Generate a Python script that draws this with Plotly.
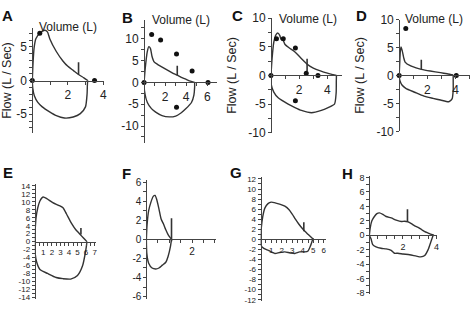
import plotly.graph_objects as go

W, H = 474, 311
LINE = "#333333"
AXC = "#444444"
FONT = "Liberation Sans, Arial, sans-serif"

panel_letters = ["A", "B", "C", "D", "E", "F", "G", "H"]
flow_title = "Flow (L / Sec)"
volume_title = "Volume (L)"

a_exp_x = [0, 0.04, 0.1, 0.2, 0.42, 0.7, 0.85, 0.98, 1.35, 1.72, 2.0, 2.3, 2.6, 2.9, 3.12]
a_exp_y = [0, 2.5, 4.8, 6.2, 7.0, 7.45, 7.2, 6.2, 4.3, 2.9, 2.1, 1.5, 0.9, 0.4, 0]
a_ins_x = [0, 0.03, 0.12, 0.3, 0.56, 0.95, 1.35, 1.8, 2.3, 2.7, 2.99, 3.08, 3.1, 3.12]
a_ins_y = [0, -1.2, -2.3, -3.2, -3.9, -4.6, -5.2, -5.55, -5.4, -4.9, -3.9, -2.0, -0.5, 0]
a_dot_x = [0, 0.42, 3.5]
a_dot_y = [0, 7.0, 0]
a_tick = [2.6, 0.9, 2.7]

b_exp_x = [0, 0.1, 0.3, 0.45, 0.6, 0.75, 0.95, 1.3, 1.8, 2.3, 2.8, 3.2, 3.6, 4.0, 4.4, 4.8]
b_exp_y = [0, 3.0, 7.0, 8.2, 7.8, 6.0, 4.7, 4.1, 3.4, 2.7, 2.0, 1.6, 1.1, 0.7, 0.3, 0]
b_ins_x = [0, 0.04, 0.31, 0.7, 1.1, 1.7, 2.4, 3.0, 3.5, 3.93, 4.5, 4.73, 4.8, 4.8]
b_ins_y = [0, -1.9, -4.6, -6.0, -6.8, -7.6, -7.9, -7.7, -7.0, -6.1, -4.6, -2.9, -1.0, 0]
b_dot_x = [0, 0.72, 1.57, 3.08, 4.56, 6.07, 3.08]
b_dot_y = [0, 11.0, 9.7, 6.5, 2.6, 0, -5.7]
b_tick = [3.15, 1.6, 3.8]

c_exp_x = [0, 0.08, 0.2, 0.35, 0.5, 0.62, 0.72, 0.85, 1.0, 1.3, 1.7, 2.1, 2.6, 3.0, 3.5, 4.0, 4.4, 4.64]
c_exp_y = [0, 3.0, 5.8, 7.1, 7.4, 7.0, 6.3, 6.2, 5.4, 4.8, 4.1, 3.1, 1.9, 1.3, 0.8, 0.4, 0.15, 0]
c_ins_x = [0, 0.02, 0.2, 0.51, 1.22, 1.7, 2.16, 2.87, 3.57, 4.05, 4.5, 4.62, 4.63, 4.64]
c_ins_y = [0, -1.6, -2.9, -3.9, -5.0, -5.6, -6.1, -6.5, -6.1, -5.6, -5.0, -3.0, -1.0, 0]
c_dot_x = [0, 0.39, 0.87, 1.73, 2.5, 3.33, 1.73]
c_dot_y = [0, 6.4, 6.4, 4.8, 0.4, 0, -4.4]
c_tick = [2.56, 0.8, 2.9]

d_exp_x = [0, 0.04, 0.08, 0.13, 0.22, 0.32, 0.42, 0.82, 1.2, 1.57, 2.2, 2.93, 3.4, 3.64, 3.83]
d_exp_y = [0, 2.2, 4.2, 5.1, 4.4, 3.2, 2.4, 1.7, 1.35, 1.1, 0.8, 0.5, 0.3, 0.2, 0.1]
d_ins_x = [0, 0.05, 0.2, 0.47, 1.1, 1.76, 2.4, 2.93, 3.52, 3.75, 3.83, 3.83, 3.83]
d_ins_y = [0, -0.9, -1.7, -2.3, -3.0, -3.7, -4.1, -4.4, -4.7, -4.2, -2.6, -1.0, 0.1]
d_dot_x = [0, 0.47, 4.05]
d_dot_y = [0, 8.4, 0]
d_tick = [1.57, 1.1, 2.8]

e_exp_x = [0, 0.05, 0.15, 0.35, 0.6, 0.97, 1.4, 2.1, 2.8, 3.3, 3.7, 4.3, 4.8, 5.23, 5.7, 6.1]
e_exp_y = [0, 3.0, 6.0, 8.5, 10.2, 11.2, 10.8, 9.8, 9.1, 8.5, 7.0, 4.6, 3.0, 2.0, 0.9, 0]
e_ins_x = [0, 0.05, 0.2, 0.6, 1.5, 2.5, 3.3, 4.2, 5.0, 5.6, 5.9, 6.05, 6.1]
e_ins_y = [0, -3.0, -5.0, -7.0, -8.0, -9.0, -9.3, -9.4, -8.5, -6.0, -3.0, -1.0, 0]
e_tick = [5.4, 1.8, 3.4]

f_exp_x = [0, 0.03, 0.1, 0.2, 0.3, 0.38, 0.45, 0.55, 0.65, 0.75, 0.85, 0.95, 1.05, 1.1]
f_exp_y = [0, 1.5, 3.0, 3.9, 4.5, 4.6, 4.2, 3.2, 2.1, 1.6, 1.0, 0.5, 0.15, 0]
f_ins_x = [0, 0.02, 0.1, 0.25, 0.41, 0.55, 0.7, 0.85, 0.95, 1.05, 1.1]
f_ins_y = [0, -1.5, -2.5, -3.0, -3.1, -3.0, -2.7, -2.4, -1.8, -0.8, 0]
f_tick = [1.1, -0.2, 2.2]

g_exp_x = [0, 0.05, 0.2, 0.4, 0.7, 1.0, 1.3, 1.8, 2.3, 2.7, 3.0, 3.3, 3.6, 3.9, 4.2, 4.5, 4.8, 5.0]
g_exp_y = [0, 2.0, 4.5, 6.2, 7.1, 7.4, 7.3, 7.0, 6.6, 5.9, 5.0, 4.0, 3.1, 2.3, 1.6, 1.0, 0.4, 0]
g_ins_x = [0, 0.02, 0.3, 0.73, 1.35, 1.8, 2.3, 2.8, 3.25, 3.7, 4.2, 4.5, 4.75, 4.9, 5.0]
g_ins_y = [0, -1.1, -1.8, -2.2, -2.8, -2.6, -2.5, -2.7, -2.8, -2.5, -2.5, -2.3, -1.2, -0.3, 0.2]
g_tick = [4.1, 1.6, 3.4]

h_exp_x = [0, 0.05, 0.15, 0.3, 0.45, 0.6, 0.8, 1.0, 1.3, 1.6, 1.9, 2.1, 2.3, 2.5, 2.7, 2.9, 3.1, 3.3, 3.5, 3.7, 3.85]
h_exp_y = [0, 1.0, 2.0, 2.6, 3.0, 3.1, 2.9, 2.6, 2.4, 2.1, 1.9, 1.95, 1.85, 1.6, 1.3, 1.1, 0.8, 0.5, 0.3, 0.1, 0]
h_ins_x = [0, 0.1, 0.2, 0.4, 0.7, 1.0, 1.3, 1.5, 1.7, 2.0, 2.4, 2.8, 3.06, 3.3, 3.5, 3.65, 3.8]
h_ins_y = [0, -0.5, -1.3, -1.6, -1.8, -1.9, -2.1, -2.5, -2.5, -2.6, -2.7, -2.9, -3.0, -2.8, -2.0, -1.0, 0]
h_tick = [2.27, 1.85, 3.6]

a_xt = [1, 2, 3, 4]; a_xl = ["", "2", "", "4"]
a_yt = [-7, -6, -5, -4, -3, -2, -1, 0, 1, 2, 3, 4, 5, 6, 7]
a_yl = ["", "", "-5", "", "", "", "", "0", "", "", "", "", "5", "", ""]
b_xt = [1, 2, 3, 4, 5, 6]; b_xl = ["", "2", "", "4", "", "6"]
b_yt = [-12.5, -10, -7.5, -5, -2.5, 0, 2.5, 5, 7.5, 10, 12.5]
b_yl = ["", "-10", "", "-5", "", "0", "", "5", "", "10", ""]
c_xt = [1, 2, 3, 4]; c_xl = ["", "2", "", "4"]
c_yt = [-10, -7.5, -5, -2.5, 0, 2.5, 5, 7.5, 10]; c_yl = ["-10", "", "-5", "", "0", "", "5", "", "10"]
d_xt = [1, 2, 3, 4, 5]; d_xl = ["", "2", "", "4", ""]
d_yt = c_yt; d_yl = c_yl
e_xt = [0.5 * k for k in range(1, 15)]; e_xl = [str(int(v)) if v == int(v) else "" for v in e_xt]
e_yt = list(range(-14, 15)); e_yl = [str(v) if v % 2 == 0 else "" for v in e_yt]
f_xt = [0.5, 1, 1.5, 2, 2.5, 3]; f_xl = ["", "", "", "2", "", ""]
f_yt = list(range(-6, 7)); f_yl = [str(v) if v % 2 == 0 else "" for v in f_yt]
g_xt = [0.5 * k for k in range(1, 13)]; g_xl = [str(int(v)) if v == int(v) else "" for v in g_xt]
g_yt = list(range(-12, 13)); g_yl = [str(v) if v % 2 == 0 else "" for v in g_yt]
h_xt = [0.5 * k for k in range(1, 9)]; h_xl = ["", "", "", "2", "", "", "", "4"]
h_yt = list(range(-8, 9)); h_yl = [str(v) if v % 2 == 0 else "" for v in h_yt]

# origin x, origin y, px/unit x, px/unit y, x range, y range, tick font, flow-title standoff (None = no title)
geom = [
    (32.5, 77.0, 17.9, 7.07, (0, 4.05), (-7.8, 7.8), 12, 4),
    (145.0, 79.0, 10.6, 4.57, (0, 6.9), (-13.9, 14.4), 12, None),
    (272.7, 71.7, 14.2, 6.0, (0, 5.0), (-10, 10), 12, 7),
    (401.7, 71.7, 14.2, 5.85, (0, 5.0), (-10, 10), 12, 8),
    (35.0, 245.7, 8.6, 4.17, (0, 7.2), (-14.5, 14.5), 8, None),
    (147.3, 243.3, 23.0, 10.0, (0, 3.05), (-6.2, 6.2), 10, None),
    (262.3, 243.3, 10.6, 5.27, (0, 6.2), (-12.3, 12.3), 8, None),
    (371.7, 239.0, 16.9, 7.55, (0, 4.0), (-8.2, 8.2), 9, None),
]

curves = [
    (a_exp_x, a_exp_y, a_ins_x, a_ins_y, a_tick, a_dot_x, a_dot_y, a_xt, a_xl, a_yt, a_yl),
    (b_exp_x, b_exp_y, b_ins_x, b_ins_y, b_tick, b_dot_x, b_dot_y, b_xt, b_xl, b_yt, b_yl),
    (c_exp_x, c_exp_y, c_ins_x, c_ins_y, c_tick, c_dot_x, c_dot_y, c_xt, c_xl, c_yt, c_yl),
    (d_exp_x, d_exp_y, d_ins_x, d_ins_y, d_tick, d_dot_x, d_dot_y, d_xt, d_xl, d_yt, d_yl),
    (e_exp_x, e_exp_y, e_ins_x, e_ins_y, e_tick, [], [], e_xt, e_xl, e_yt, e_yl),
    (f_exp_x, f_exp_y, f_ins_x, f_ins_y, f_tick, [], [], f_xt, f_xl, f_yt, f_yl),
    (g_exp_x, g_exp_y, g_ins_x, g_ins_y, g_tick, [], [], g_xt, g_xl, g_yt, g_yl),
    (h_exp_x, h_exp_y, h_ins_x, h_ins_y, h_tick, [], [], h_xt, h_xl, h_yt, h_yl),
]

fig = go.Figure()
layout = {}
for i, (g, c) in enumerate(zip(geom, curves)):
    ox, oy, sx, sy, xr, yr, fs, standoff = g
    ex, ey, ix, iy, tk, dx, dy, xt, xl, yt, yl = c
    n = "" if i == 0 else str(i + 1)
    xa, ya = "x" + n, "y" + n
    line = dict(color=LINE, width=1.4, shape="spline", smoothing=0.6)
    fig.add_trace(go.Scatter(x=ex, y=ey, xaxis=xa, yaxis=ya, mode="lines", line=line, hoverinfo="skip"))
    fig.add_trace(go.Scatter(x=ix, y=iy, xaxis=xa, yaxis=ya, mode="lines", line=line, hoverinfo="skip"))
    fig.add_trace(go.Scatter(x=[tk[0], tk[0]], y=[tk[1], tk[2]], xaxis=xa, yaxis=ya, mode="lines",
                             line=dict(color=LINE, width=1.6), hoverinfo="skip"))
    if dx:
        fig.add_trace(go.Scatter(x=dx, y=dy, xaxis=xa, yaxis=ya, mode="markers", cliponaxis=False,
                                 marker=dict(color="#111111", size=5), hoverinfo="skip"))
    xd = [(ox + xr[0] * sx) / W, (ox + xr[1] * sx) / W]
    yd = [1 - (oy - yr[0] * sy) / H, 1 - (oy - yr[1] * sy) / H]
    xpos = 1 - oy / H
    tf = dict(family=FONT, size=fs, color="#222222")
    common = dict(showline=True, linewidth=1, linecolor=AXC, tickcolor=AXC, ticks="outside",
                  ticklen=3, tickmode="array", tickfont=tf, showgrid=False,
                  zeroline=False, fixedrange=True, ticklabeloverflow="allow")
    layout["xaxis" + n] = dict(domain=xd, range=list(xr), anchor="free", position=xpos,
                               tickvals=xt, ticktext=xl, **common)
    ydict = dict(domain=yd, range=list(yr), anchor="free", position=xd[0], autoshift=False, shift=0,
                 side="left", tickvals=yt, ticktext=yl, **common)
    if standoff is not None:
        ydict["title"] = dict(text=flow_title, standoff=standoff,
                              font=dict(family=FONT, size=12.5, color="#222222"))
    layout["yaxis" + n] = ydict

ann = []
letter_pos = [(8, 9), (128, 11), (239, 9), (364, 9), (8, 173), (127, 174), (238, 173), (350, 174)]
for L, (px, py) in zip(panel_letters, letter_pos):
    ann.append(dict(text="<b>" + L + "</b>", x=px / W, y=1 - py / H, xref="paper", yref="paper",
                    showarrow=False, xanchor="center", yanchor="middle",
                    font=dict(family=FONT, size=15, color="#111111")))
for px, py in [(68, 21), (182, 14), (310, 13), (437, 13)]:
    ann.append(dict(text=volume_title, x=px / W, y=1 - py / H, xref="paper", yref="paper",
                    showarrow=False, xanchor="center", yanchor="middle",
                    font=dict(family=FONT, size=12, color="#222222")))

fig.update_layout(width=W, height=H, margin=dict(l=0, r=0, t=0, b=0),
                  paper_bgcolor="white", plot_bgcolor="white", showlegend=False,
                  annotations=ann)
fig.update_layout(layout)
fig.write_html("out.html")
